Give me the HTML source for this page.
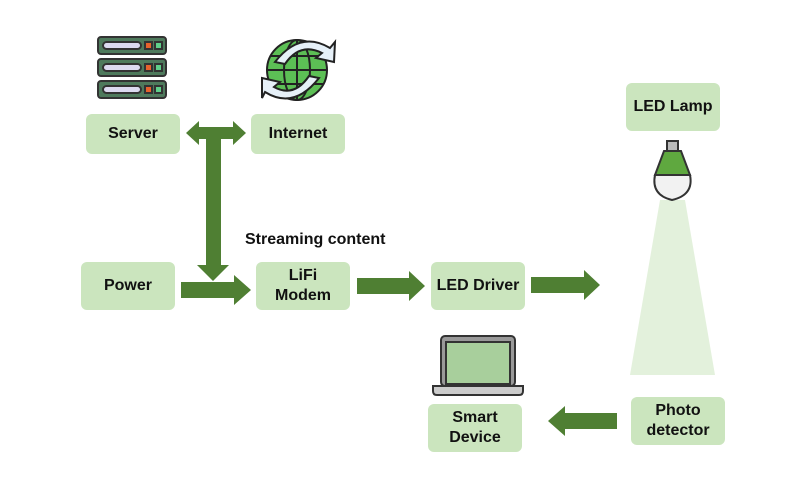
<!DOCTYPE html>
<html><head><meta charset="utf-8"><style>
body{margin:0;width:800px;height:497px;background:#fff;position:relative;overflow:hidden;font-family:"Liberation Sans",sans-serif}
.b{position:absolute;background:#cbe5be;border-radius:6px;display:flex;align-items:center;justify-content:center;text-align:center;font-weight:bold;font-size:16px;color:#111;line-height:20px}
svg{position:absolute;left:0;top:0}
</style></head><body>
<svg width="800" height="497">
<polygon points="660,200 685,200 715,375 630,375" fill="#e3f1dc"/>
<g fill="#4f7f33">
<polygon points="186,133 199,121 199,127 233,127 233,121 246,133 233,145 233,139 199,139 199,145"/>
<polygon points="206,139 221,139 221,265 229,265 213,281 197,265 206,265"/>
<polygon points="181,282 234,282 234,275 251,290 234,305 234,298 181,298"/>
<polygon points="357,278 409,278 409,271 425,286 409,301 409,294 357,294"/>
<polygon points="531,277 584,277 584,270 600,285 584,300 584,293 531,293"/>
<polygon points="617,413 565,413 565,406 548,421 565,436 565,429 617,429"/>
</g>
<g stroke="#333" stroke-width="2">
<rect x="98" y="37" width="68" height="17" rx="3" fill="#4e7a5c"/>
<rect x="98" y="59" width="68" height="17" rx="3" fill="#4e7a5c"/>
<rect x="98" y="81" width="68" height="17" rx="3" fill="#4e7a5c"/>
<rect x="103" y="42" width="38" height="7" rx="3.5" fill="#dcdaf0"/>
<rect x="103" y="64" width="38" height="7" rx="3.5" fill="#dcdaf0"/>
<rect x="103" y="86" width="38" height="7" rx="3.5" fill="#dcdaf0"/>
<rect x="145" y="42" width="7" height="7" fill="#e8622c"/><rect x="155" y="42" width="7" height="7" fill="#5fd08a"/>
<rect x="145" y="64" width="7" height="7" fill="#e8622c"/><rect x="155" y="64" width="7" height="7" fill="#5fd08a"/>
<rect x="145" y="86" width="7" height="7" fill="#e8622c"/><rect x="155" y="86" width="7" height="7" fill="#5fd08a"/>
</g>
<g stroke="#222" stroke-width="2">
<circle cx="297" cy="70" r="30" fill="#5cbf55"/>
<ellipse cx="297" cy="70" rx="13" ry="30" fill="none"/>
<line x1="267" y1="70" x2="327" y2="70"/><line x1="297" y1="40" x2="297" y2="100"/>
<line x1="271" y1="56" x2="323" y2="56"/><line x1="271" y1="84" x2="323" y2="84"/>
<path d="M275,62 Q300,30 330,48 L335,42 L334,62 L316,58 L322,53 Q300,42 285,64Z" fill="#e6f0f8"/>
<path d="M319,78 Q294,110 265,92 L262,98 L262,78 L280,82 L274,87 Q294,98 309,76Z" fill="#e6f0f8"/>
</g>
<g stroke="#333" stroke-width="2">
<rect x="667" y="141" width="11" height="10" fill="#bbb"/>
<path d="M664,151 L681,151 L690,175 L655,175Z" fill="#5fa83f"/>
<path d="M655,175 L690,175 Q694,195 672,200 Q651,195 655,175Z" fill="#f2f2f2"/>
</g>
<g stroke="#333" stroke-width="2">
<rect x="441" y="336" width="74" height="50" rx="4" fill="#999"/>
<rect x="446" y="342" width="64" height="42" fill="#a8cf9c"/>
<path d="M433,386 L523,386 L523,391 Q523,395 519,395 L437,395 Q433,395 433,391Z" fill="#ccc"/>
</g>
</svg>
<div class="b" style="left:86px;top:114px;width:94px;height:40px">Server</div>
<div class="b" style="left:251px;top:114px;width:94px;height:40px">Internet</div>
<div class="b" style="left:81px;top:262px;width:94px;height:48px">Power</div>
<div class="b" style="left:256px;top:262px;width:94px;height:48px">LiFi<br>Modem</div>
<div class="b" style="left:431px;top:262px;width:94px;height:48px">LED Driver</div>
<div class="b" style="left:626px;top:83px;width:94px;height:48px">LED Lamp</div>
<div class="b" style="left:631px;top:397px;width:94px;height:48px">Photo<br>detector</div>
<div class="b" style="left:428px;top:404px;width:94px;height:48px">Smart<br>Device</div>
<div style="position:absolute;left:245px;top:231px;font-weight:bold;font-size:16px;color:#111">Streaming content</div>
</body></html>
